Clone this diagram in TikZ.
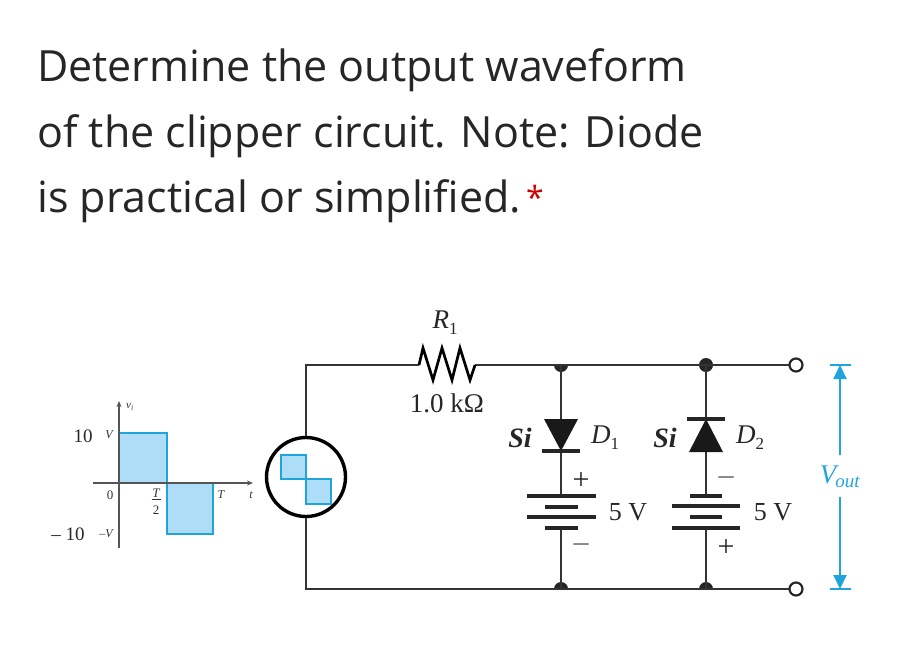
\documentclass[tikz,border=0pt]{standalone}
\usepackage{fontspec}
\setmainfont{Liberation Serif}
\newfontfamily\titlefont{Open Sans}
\usetikzlibrary{arrows.meta}
\definecolor{wirec}{HTML}{333333}
\definecolor{blueline}{HTML}{1FA5DC}
\definecolor{bluefill}{HTML}{AEDDF8}
\definecolor{axisc}{HTML}{555555}
\newcommand{\subup}[1]{\raisebox{-0.22em}{\upshape\fontsize{17}{18}\selectfont #1}}
\tikzset{
 x=1pt,y=-1pt,
 wire/.style={draw=wirec,line width=2.4pt},
 plate/.style={draw=black!85,line width=3.3pt},
 titletext/.style={anchor=base west,inner sep=0,text=black!85,font=\titlefont\fontsize{43}{48}\selectfont},
 term/.style={circle,draw=black!85,fill=white,line width=2.2pt,minimum size=13pt,inner sep=0},
 dotnode/.style={circle,fill=black!85,minimum size=14pt,inner sep=0},
 lab/.style={inner sep=0,text=black!85,font=\fontsize{30}{32}\selectfont},
 sil/.style={inner sep=0,text=black!85,font=\bfseries\itshape\fontsize{28}{30}\selectfont},
 glab/.style={inner sep=0,text=black!80,font=\fontsize{13}{14}\selectfont},
 pulse/.style={draw=blueline,fill=bluefill,line width=1.7pt},
 pulsesm/.style={draw=blueline,fill=bluefill,line width=1.2pt},
 axisl/.style={draw=axisc,line width=1.1pt},
 meas/.style={draw=blueline,line width=1.9pt},
 measarrow/.style={meas,-{Triangle[length=14pt,width=13pt]}},
}
\begin{document}
\begin{tikzpicture}
\useasboundingbox (0,0) rectangle (910,659);
% title
\node[titletext] (t1) at (37,81) {Determine the output waveform};
\node[titletext] (t2) at (37,147) {of the clipper circuit. Note: Diode};
\node[titletext] (t3) at (37,212) {is practical or simplified.};
\node[inner sep=0,text=red!80!black,font=\titlefont\fontsize{32}{34}\selectfont] (star) at (535,197) {*};
% waveform
\draw[pulse] (119,433) rectangle (167,483);
\draw[pulse] (167,483) rectangle (213,534);
\coordinate (axT) at (119,401);
\coordinate (axB) at (119,548);
\coordinate (axL) at (93,483);
\coordinate (axR) at (253,483);
\draw[axisl,-{Stealth[length=6pt,width=5pt]}] (axB) -- (axT);
\draw[axisl,-{Stealth[length=6pt,width=5pt]}] (axL) -- (axR);
\node[glab,font=\itshape\fontsize{11}{12}\selectfont] (vi) at (130,407) {v\textsubscript{i}};
\node[lab,font=\fontsize{19}{20}\selectfont] (ten) at (83,436) {10};
\node[glab,font=\itshape\fontsize{12}{13}\selectfont] (vp) at (109,435) {V};
\node[lab,font=\fontsize{19}{20}\selectfont] (mten) at (68,534) {– 10};
\node[glab,font=\itshape\fontsize{12}{13}\selectfont] (vn) at (106,534) {–V};
\node[glab] (zero) at (110,495) {0};
\node[glab,font=\itshape\fontsize{13}{14}\selectfont] (th) at (156,493) {T};
\coordinate (fa) at (151.5,499.5);
\coordinate (fb) at (160.5,499.5);
\draw[draw=black!80,line width=.8pt] (fa) -- (fb);
\node[glab,font=\fontsize{13}{14}\selectfont] (t2b) at (156,510) {2};
\node[glab,font=\itshape\fontsize{12}{13}\selectfont] (tt) at (221,495) {T};
\node[glab,font=\itshape\fontsize{12}{13}\selectfont] (ts) at (251,495) {t};
% source
\node[circle,draw=black,line width=3.4pt,minimum size=79pt,inner sep=0] (src) at (306,477) {};
\draw[pulsesm] (281,455) rectangle (306,479);
\draw[pulsesm] (306,479) rectangle (331,504);
% junctions & terminals
\coordinate (cTL) at (306,365);
\coordinate (cBL) at (306,589);
\coordinate (rA) at (419,365);
\coordinate (rB) at (475,365);
\coordinate (j1) at (561,365);
\coordinate (j2) at (706,365);
\coordinate (j3) at (561,589);
\coordinate (j4) at (706,589);
% half dots
\fill[black!85] (554,365) arc[start angle=180,end angle=360,radius=7pt] -- cycle;
\fill[black!85] (554,589) arc[start angle=180,end angle=0,radius=7pt] -- cycle;
\fill[black!85] (699,589) arc[start angle=180,end angle=0,radius=7pt] -- cycle;
\node[dotnode] (d2dot) at (j2) {};
% wires
\draw[wire] (src) -- (cTL) -- (rA);
\draw[wire] (rB) -- (j1) -- (j2) -- (796,365);
\draw[wire] (src) -- (cBL) -- (j3) -- (j4) -- (796,589);
\node[term] (o1) at (796,365) {};
\node[term] (o2) at (796,589) {};
% resistor
\draw[draw=black,line width=2.7pt,line join=miter] (rA) -- (423,348) -- (433,380) -- (442,348) -- (452,380) -- (460,348) -- (470,380) -- (rB);
\node[lab,font=\itshape\fontsize{27}{29}\selectfont] (r1) at (445,323) {R\subup{1}};
\node[lab,font=\fontsize{27}{29}\selectfont] (rv) at (447,403) {1.0 kΩ};
% D1 branch
\coordinate (d1a) at (561,420);
\coordinate (d1k) at (561,451);
\coordinate (b1t) at (561,496);
\coordinate (b1b) at (561,528);
\draw[wire] (j1) -- (d1a);
\draw[wire] (d1k) -- (b1t);
\draw[wire] (b1b) -- (j3);
\fill[black!90] (544,419) -- (578,419) -- (d1k) -- cycle;
\draw[plate] (542,451) -- (580,451);
\draw[plate] (527,496) -- (596,496);
\draw[plate] (545,507) -- (578,507);
\draw[plate] (527,517) -- (596,517);
\draw[plate] (545,528) -- (578,528);
% D2 branch
\coordinate (d2k) at (706,419);
\coordinate (d2a) at (706,452);
\coordinate (b2t) at (706,496);
\coordinate (b2b) at (706,528);
\draw[wire] (j2) -- (d2k);
\draw[wire] (d2a) -- (b2t);
\draw[wire] (b2b) -- (j4);
\fill[black!90] (d2k) -- (723,452) -- (689,452) -- cycle;
\draw[plate] (687,419) -- (725,419);
\draw[plate] (690,496) -- (722,496);
\draw[plate] (672,506) -- (740,506);
\draw[plate] (690,517) -- (722,517);
\draw[plate] (672,528) -- (740,528);
% labels
\node[sil] (si1) at (520,438) {Si};
\node[sil] (si2) at (665,438) {Si};
\node[lab,font=\itshape\fontsize{27}{29}\selectfont] (dl1) at (605,438) {D\subup{1}};
\node[lab,font=\itshape\fontsize{27}{29}\selectfont] (dl2) at (750,438) {D\subup{2}};
\node[lab] (p1) at (581,481) {+};
\node[lab,text=black!60] (m1) at (581,548) {–};
\node[lab,text=black!60] (m2) at (726,481) {–};
\node[lab] (p2) at (726,548) {+};
\node[lab,font=\fontsize{26}{28}\selectfont] (v1) at (628,512) {5 V};
\node[lab,font=\fontsize{26}{28}\selectfont] (v2) at (773,512) {5 V};
% Vout
\coordinate (mT) at (840,365);
\coordinate (mB) at (840,589);
\coordinate (tTL) at (830,365);
\coordinate (tTR) at (851,365);
\coordinate (tBL) at (830,589);
\coordinate (tBR) at (851,589);
\node[inner sep=0,text=blueline,font=\itshape\fontsize{27}{29}\selectfont] (vout) at (840,477) {V\textsubscript{\kern-1pt out}};
\draw[meas] (tTL) -- (tTR);
\draw[meas] (tBL) -- (tBR);
\coordinate (mTs) at (840,455);
\coordinate (mBs) at (840,497);
\draw[measarrow] (mTs) -- (mT);
\draw[measarrow] (mBs) -- (mB);
\end{tikzpicture}
\end{document}
